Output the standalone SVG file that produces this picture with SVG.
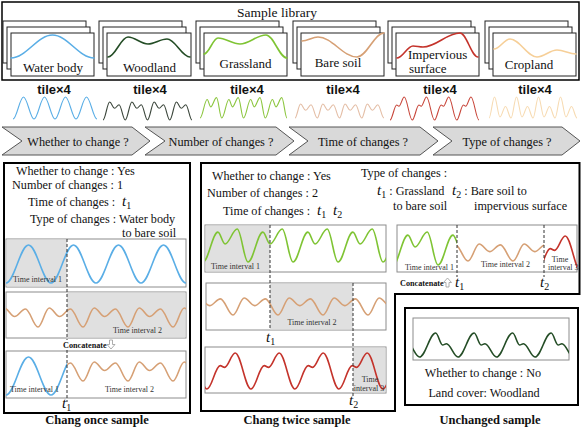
<svg xmlns="http://www.w3.org/2000/svg" width="581" height="430" viewBox="0 0 581 430">
<style>
.sf{font-family:"Liberation Serif","Times New Roman",serif;fill:#111}
.lbl{font-size:12.2px}
.ct{font-size:13px}
.ti{font-size:8px;fill:#333}
.tile{font-family:"Liberation Sans",Arial,sans-serif;font-weight:bold;font-size:13px;fill:#111}
.cap{font-weight:bold;font-size:12.5px}
.cc{font-weight:bold;font-size:8.2px}
.arr{fill:#fff;stroke:#999;stroke-width:0.8;stroke-linejoin:miter}
.m{font-style:italic;font-size:15px}
.sub{font-size:10px}
.chq{font-size:12.3px}
.box{fill:#fff;stroke:#8c8c8c;stroke-width:1}
.sh{fill:#e0e0e0}
.dash{stroke:#333;stroke-width:1;stroke-dasharray:3 2;fill:none}
.frame{fill:none;stroke:#000;stroke-width:2}
.card{fill:#fff;stroke:#222;stroke-width:1}
.chev{fill:#d9d9d9;stroke:#555;stroke-width:1}
.w{fill:none;stroke-width:1.6;stroke-linejoin:round;stroke-linecap:round}
.wt{fill:none;stroke-width:1.1;stroke-linejoin:round}
.blue{stroke:#5aaee6}.wood{stroke:#244d26}.grass{stroke:#7fc434}.bare{stroke:#d6a075}.imp{stroke:#c4332b}.crop{stroke:#f6cf98}
</style>
<defs>
<clipPath id="cL1"><rect x="6" y="239" width="180" height="48"/></clipPath>
<clipPath id="cL2"><rect x="6" y="292" width="180" height="46"/></clipPath>
<clipPath id="cL3a"><rect x="6" y="351" width="61" height="47"/></clipPath>
<clipPath id="cL3b"><rect x="67" y="351" width="119" height="47"/></clipPath>
<clipPath id="cM1"><rect x="205" y="225" width="181" height="47"/></clipPath>
<clipPath id="cM2"><rect x="206" y="283" width="180" height="47"/></clipPath>
<clipPath id="cM3"><rect x="205" y="347" width="181" height="46"/></clipPath>
<clipPath id="cRa"><rect x="397" y="225" width="60" height="47"/></clipPath>
<clipPath id="cRb"><rect x="457" y="225" width="87" height="47"/></clipPath>
<clipPath id="cRc"><rect x="544" y="225" width="33" height="47"/></clipPath>
<clipPath id="cU"><rect x="413" y="318" width="156" height="42"/></clipPath>
<path id="wBlue" class="w blue" d="M6,283 c8.19,0 14.31,-38 22.5,-38 c8.19,0 14.31,38 22.5,38 c8.19,0 14.31,-38 22.5,-38 c8.19,0 14.31,38 22.5,38 c8.19,0 14.31,-38 22.5,-38 c8.19,0 14.31,38 22.5,38 c8.19,0 14.31,-38 22.5,-38 c8.19,0 14.31,38 22.5,38"/>
<path id="wBrownL" class="w bare" d="M-7,327 c4.1,0 7.16,-19 11.25,-19 c3.77,0 6.58,8.55 10.35,8.55 c3.93,0 6.87,-7.6 10.8,-7.6 c4.59,0 8.01,18.05 12.6,18.05 c4.1,0 7.16,-19 11.25,-19 c3.77,0 6.58,8.55 10.35,8.55 c3.93,0 6.87,-7.6 10.8,-7.6 c4.59,0 8.01,18.05 12.6,18.05 c4.1,0 7.16,-19 11.25,-19 c3.77,0 6.58,8.55 10.35,8.55 c3.93,0 6.87,-7.6 10.8,-7.6 c4.59,0 8.01,18.05 12.6,18.05 c4.1,0 7.16,-19 11.25,-19 c3.77,0 6.58,8.55 10.35,8.55 c3.93,0 6.87,-7.6 10.8,-7.6 c4.59,0 8.01,18.05 12.6,18.05 c4.1,0 7.16,-19 11.25,-19 c3.77,0 6.58,8.55 10.35,8.55 c3.93,0 6.87,-7.6 10.8,-7.6 c4.59,0 8.01,18.05 12.6,18.05"/>
<path id="wGreen" class="w grass" d="M203,262 c5.41,0 9.44,-29.92 14.85,-29.92 c2.62,0 4.58,11.9 7.2,11.9 c4.42,0 7.73,-14.96 12.15,-14.96 c3.93,0 6.87,32.98 10.8,32.98 c5.41,0 9.44,-29.92 14.85,-29.92 c2.62,0 4.58,11.9 7.2,11.9 c4.42,0 7.73,-14.96 12.15,-14.96 c3.93,0 6.87,32.98 10.8,32.98 c5.41,0 9.44,-29.92 14.85,-29.92 c2.62,0 4.58,11.9 7.2,11.9 c4.42,0 7.73,-14.96 12.15,-14.96 c3.93,0 6.87,32.98 10.8,32.98 c5.41,0 9.44,-29.92 14.85,-29.92 c2.62,0 4.58,11.9 7.2,11.9 c4.42,0 7.73,-14.96 12.15,-14.96 c3.93,0 6.87,32.98 10.8,32.98 c5.41,0 9.44,-29.92 14.85,-29.92 c2.62,0 4.58,11.9 7.2,11.9 c4.42,0 7.73,-14.96 12.15,-14.96 c3.93,0 6.87,32.98 10.8,32.98"/>
<path id="wBrownM" class="w bare" d="M188,315 c4.1,0 7.16,-17 11.25,-17 c3.77,0 6.58,7.65 10.35,7.65 c3.93,0 6.87,-6.8 10.8,-6.8 c4.59,0 8.01,16.15 12.6,16.15 c4.1,0 7.16,-17 11.25,-17 c3.77,0 6.58,7.65 10.35,7.65 c3.93,0 6.87,-6.8 10.8,-6.8 c4.59,0 8.01,16.15 12.6,16.15 c4.1,0 7.16,-17 11.25,-17 c3.77,0 6.58,7.65 10.35,7.65 c3.93,0 6.87,-6.8 10.8,-6.8 c4.59,0 8.01,16.15 12.6,16.15 c4.1,0 7.16,-17 11.25,-17 c3.77,0 6.58,7.65 10.35,7.65 c3.93,0 6.87,-6.8 10.8,-6.8 c4.59,0 8.01,16.15 12.6,16.15 c4.1,0 7.16,-17 11.25,-17 c3.77,0 6.58,7.65 10.35,7.65 c3.93,0 6.87,-6.8 10.8,-6.8 c4.59,0 8.01,16.15 12.6,16.15"/>
<path id="wRed" class="w imp" d="M163,389 c4.8,0 8.4,-23.4 13.2,-23.4 c1.6,0 2.8,1.8 4.4,1.8 c3.84,0 6.72,-14.4 10.56,-14.4 c5.77,0 10.07,36 15.84,36 c4.8,0 8.4,-23.4 13.2,-23.4 c1.6,0 2.8,1.8 4.4,1.8 c3.84,0 6.72,-14.4 10.56,-14.4 c5.77,0 10.07,36 15.84,36 c4.8,0 8.4,-23.4 13.2,-23.4 c1.6,0 2.8,1.8 4.4,1.8 c3.84,0 6.72,-14.4 10.56,-14.4 c5.77,0 10.07,36 15.84,36 c4.8,0 8.4,-23.4 13.2,-23.4 c1.6,0 2.8,1.8 4.4,1.8 c3.84,0 6.72,-14.4 10.56,-14.4 c5.77,0 10.07,36 15.84,36 c4.8,0 8.4,-23.4 13.2,-23.4 c1.6,0 2.8,1.8 4.4,1.8 c3.84,0 6.72,-14.4 10.56,-14.4 c5.77,0 10.07,36 15.84,36 c4.8,0 8.4,-23.4 13.2,-23.4 c1.6,0 2.8,1.8 4.4,1.8 c3.84,0 6.72,-14.4 10.56,-14.4 c5.77,0 10.07,36 15.84,36"/>
<path id="wWood" class="w wood" d="M381,357 c5.89,0 10.28,-24 16.17,-24 c2.52,0 4.41,12 6.93,12 c1.4,0 2.45,-1.2 3.85,-1.2 c4.2,0 7.35,13.2 11.55,13.2 c5.89,0 10.28,-24 16.17,-24 c2.52,0 4.41,12 6.93,12 c1.4,0 2.45,-1.2 3.85,-1.2 c4.2,0 7.35,13.2 11.55,13.2 c5.89,0 10.28,-24 16.17,-24 c2.52,0 4.41,12 6.93,12 c1.4,0 2.45,-1.2 3.85,-1.2 c4.2,0 7.35,13.2 11.55,13.2 c5.89,0 10.28,-24 16.17,-24 c2.52,0 4.41,12 6.93,12 c1.4,0 2.45,-1.2 3.85,-1.2 c4.2,0 7.35,13.2 11.55,13.2 c5.89,0 10.28,-24 16.17,-24 c2.52,0 4.41,12 6.93,12 c1.4,0 2.45,-1.2 3.85,-1.2 c4.2,0 7.35,13.2 11.55,13.2 c5.89,0 10.28,-24 16.17,-24 c2.52,0 4.41,12 6.93,12 c1.4,0 2.45,-1.2 3.85,-1.2 c4.2,0 7.35,13.2 11.55,13.2"/>
</defs>
<rect width="581" height="430" fill="#fff"/>

<g id="sample-library">
<rect x="2" y="2" width="577" height="78" fill="none" stroke="#000" stroke-width="1.5"/>
<text class="sf" x="277" y="17" font-size="13.5" text-anchor="middle">Sample library</text>
<g id="card-water">
<rect class="card" x="3" y="21" width="83" height="42"/><rect class="card" x="7" y="27" width="83" height="42"/><rect class="card" x="11" y="33" width="83" height="43"/>
<path class="w blue" d="M11,58 C26,58 37.5,35 52.5,35 C67.5,35 79,58 94,58"/>
<text class="sf ct" x="53" y="72" text-anchor="middle">Water body</text>
</g>
<g id="card-woodland">
<rect class="card" x="99" y="21" width="83" height="42"/><rect class="card" x="103" y="27" width="83" height="42"/><rect class="card" x="107" y="33" width="84" height="43"/>
<path class="w wood" d="M108,57 C115.3,57 120.7,37 128,37 C135.3,37 140.7,44 148,44 C154.9,44 160.1,39 167,39 C175.4,39 181.6,57 190,57"/>
<text class="sf ct" x="149.5" y="72" text-anchor="middle">Woodland</text>
</g>
<g id="card-grassland">
<rect class="card" x="196" y="21" width="83" height="42"/><rect class="card" x="200" y="27" width="83" height="42"/><rect class="card" x="204" y="33" width="83" height="43"/>
<path class="w grass" d="M204,54 C209.1,54 212.9,38 218,38 C226,38 232,44 240,44 C249.5,44 256.5,35 266,35 C273.6,35 279.4,58 287,58"/>
<text class="sf ct" x="245.5" y="68" text-anchor="middle">Grassland</text>
</g>
<g id="card-baresoil">
<rect class="card" x="293" y="21" width="83" height="42"/><rect class="card" x="297" y="27" width="83" height="42"/><rect class="card" x="301" y="33" width="83" height="43"/>
<path class="w bare" d="M302,41 C307.8,41 312.2,37 318,37 C332.2,37 342.8,57 357,57 C366.8,57 374.2,33 384,33"/>
<text class="sf ct" x="338" y="67" text-anchor="middle">Bare soil</text>
</g>
<g id="card-impervious">
<rect class="card" x="388" y="21" width="83" height="42"/><rect class="card" x="392" y="27" width="83" height="42"/><rect class="card" x="396" y="33" width="83" height="43"/>
<path class="w imp" d="M397,58 C402.8,58 407.2,46 413,46 C416.6,46 419.4,47 423,47 C436.5,47 446.5,33 460,33 C466.6,33 471.4,57 478,57"/>
<text class="sf ct" x="408" y="59">Impervious<tspan x="409" y="73">surface</tspan></text>
</g>
<g id="card-cropland">
<rect class="card" x="485" y="21" width="83" height="42"/><rect class="card" x="489" y="27" width="83" height="42"/><rect class="card" x="493" y="33" width="83" height="43"/>
<path class="w crop" d="M494,49 C499.8,49 504.2,39 510,39 C519.8,39 527.2,57 537,57 C544.3,57 549.7,50 557,50 C563.9,50 569.1,54 576,54"/>
<text class="sf ct" x="529" y="69" text-anchor="middle">Cropland</text>
</g>
</g>

<g id="tiles">
<text class="tile" x="54" y="94" text-anchor="middle">tile×4</text>
<text class="tile" x="150" y="94" text-anchor="middle">tile×4</text>
<text class="tile" x="247" y="94" text-anchor="middle">tile×4</text>
<text class="tile" x="343" y="94" text-anchor="middle">tile×4</text>
<text class="tile" x="440" y="94" text-anchor="middle">tile×4</text>
<text class="tile" x="535" y="94" text-anchor="middle">tile×4</text>
<path class="wt blue" d="M13,119 c3.82,0 6.68,-22 10.5,-22 c3.82,0 6.68,22 10.5,22 c3.82,0 6.68,-22 10.5,-22 c3.82,0 6.68,22 10.5,22 c3.82,0 6.68,-22 10.5,-22 c3.82,0 6.68,22 10.5,22 c3.82,0 6.68,-22 10.5,-22 c3.82,0 6.68,22 10.5,22"/>
<path class="wt" stroke="#3b463b" d="M103,120 c2.43,0 4.25,-18 6.68,-18 c1.78,0 3.12,6.3 4.9,6.3 c1.62,0 2.83,-3.6 4.45,-3.6 c2.26,0 3.96,15.3 6.22,15.3 c2.43,0 4.25,-18 6.68,-18 c1.78,0 3.12,6.3 4.9,6.3 c1.62,0 2.83,-3.6 4.45,-3.6 c2.26,0 3.96,15.3 6.22,15.3 c2.43,0 4.25,-18 6.68,-18 c1.78,0 3.12,6.3 4.9,6.3 c1.62,0 2.83,-3.6 4.45,-3.6 c2.26,0 3.96,15.3 6.22,15.3 c2.43,0 4.25,-18 6.68,-18 c1.78,0 3.12,6.3 4.9,6.3 c1.62,0 2.83,-3.6 4.45,-3.6 c2.26,0 3.96,15.3 6.22,15.3"/>
<path class="wt" stroke="#8cc63f" d="M200,118 c2.61,0 4.57,-18.48 7.18,-18.48 c1.27,0 2.21,7.35 3.48,7.35 c2.14,0 3.73,-9.24 5.87,-9.24 c1.9,0 3.32,20.37 5.22,20.37 c2.61,0 4.57,-18.48 7.18,-18.48 c1.27,0 2.21,7.35 3.48,7.35 c2.14,0 3.73,-9.24 5.87,-9.24 c1.9,0 3.32,20.37 5.22,20.37 c2.61,0 4.57,-18.48 7.18,-18.48 c1.27,0 2.21,7.35 3.48,7.35 c2.14,0 3.73,-9.24 5.87,-9.24 c1.9,0 3.32,20.37 5.22,20.37 c2.61,0 4.57,-18.48 7.18,-18.48 c1.27,0 2.21,7.35 3.48,7.35 c2.14,0 3.73,-9.24 5.87,-9.24 c1.9,0 3.32,20.37 5.22,20.37"/>
<path class="wt" stroke="#e4bea6" d="M295,118 c2.02,0 3.54,-14 5.56,-14 c1.86,0 3.26,6.3 5.12,6.3 c1.94,0 3.4,-5.6 5.34,-5.6 c2.27,0 3.96,13.3 6.23,13.3 c2.02,0 3.54,-14 5.56,-14 c1.86,0 3.26,6.3 5.12,6.3 c1.94,0 3.4,-5.6 5.34,-5.6 c2.27,0 3.96,13.3 6.23,13.3 c2.02,0 3.54,-14 5.56,-14 c1.86,0 3.26,6.3 5.12,6.3 c1.94,0 3.4,-5.6 5.34,-5.6 c2.27,0 3.96,13.3 6.23,13.3 c2.02,0 3.54,-14 5.56,-14 c1.86,0 3.26,6.3 5.12,6.3 c1.94,0 3.4,-5.6 5.34,-5.6 c2.27,0 3.96,13.3 6.23,13.3"/>
<path class="wt" stroke="#c8463a" d="M390,120 c2.43,0 4.25,-14.95 6.68,-14.95 c0.81,0 1.42,1.15 2.23,1.15 c1.94,0 3.4,-9.2 5.34,-9.2 c2.91,0 5.09,23 8,23 c2.43,0 4.25,-14.95 6.68,-14.95 c0.81,0 1.42,1.15 2.23,1.15 c1.94,0 3.4,-9.2 5.34,-9.2 c2.91,0 5.09,23 8,23 c2.43,0 4.25,-14.95 6.68,-14.95 c0.81,0 1.42,1.15 2.23,1.15 c1.94,0 3.4,-9.2 5.34,-9.2 c2.91,0 5.09,23 8,23 c2.43,0 4.25,-14.95 6.68,-14.95 c0.81,0 1.42,1.15 2.23,1.15 c1.94,0 3.4,-9.2 5.34,-9.2 c2.91,0 5.09,23 8,23"/>
<path class="wt" stroke="#f7dbb2" d="M489,118 c2,0 3.5,-21 5.5,-21 c2,0 3.5,19.95 5.5,19.95 c2,0 3.5,-10.5 5.5,-10.5 c2,0 3.5,11.55 5.5,11.55 c2,0 3.5,-21 5.5,-21 c2,0 3.5,19.95 5.5,19.95 c2,0 3.5,-10.5 5.5,-10.5 c2,0 3.5,11.55 5.5,11.55 c2,0 3.5,-21 5.5,-21 c2,0 3.5,19.95 5.5,19.95 c2,0 3.5,-10.5 5.5,-10.5 c2,0 3.5,11.55 5.5,11.55 c2,0 3.5,-21 5.5,-21 c2,0 3.5,19.95 5.5,19.95 c2,0 3.5,-10.5 5.5,-10.5 c2,0 3.5,11.55 5.5,11.55"/>
</g>

<g id="steps">
<g id="step-whether"><polygon class="chev" points="2,127 132,127 150,141 132,155 2,155 22,141"/><text class="sf chq" x="78" y="146" text-anchor="middle">Whether to change ?</text></g>
<g id="step-number"><polygon class="chev" points="145,127 276,127 294,141 276,155 145,155 165,141"/><text class="sf chq" x="221" y="146" text-anchor="middle">Number of changes ?</text></g>
<g id="step-time"><polygon class="chev" points="289,127 420,127 438,141 420,155 289,155 308,141"/><text class="sf chq" x="363" y="146" text-anchor="middle">Time of changes ?</text></g>
<g id="step-type"><polygon class="chev" points="433,127 562,127 580,141 562,155 433,155 452,141"/><text class="sf chq" x="507" y="146" text-anchor="middle">Type of changes ?</text></g>
</g>

<g id="change-once">
<rect class="frame" x="4" y="163" width="186" height="250"/>
<text class="sf lbl" x="16" y="175">Whether to change : Yes</text>
<text class="sf lbl" x="12" y="189">Number of changes : 1</text>
<text class="sf lbl" x="28" y="206">Time of changes : <tspan x="122" class="m">t</tspan><tspan class="sub" dy="3">1</tspan></text>
<text class="sf lbl" x="30" y="223">Type of changes : Water body</text>
<text class="sf lbl" x="122" y="237">to bare soil</text>
<rect class="box" x="6" y="239" width="180" height="48"/>
<rect class="sh" x="6.5" y="239.5" width="60.5" height="47"/>
<g clip-path="url(#cL1)"><use href="#wBlue"/></g>
<text class="sf ti" x="13" y="282">Time interval 1</text>
<rect class="box" x="6" y="292" width="180" height="46"/>
<rect class="sh" x="67" y="292.5" width="118.5" height="45"/>
<g clip-path="url(#cL2)"><use href="#wBrownL"/></g>
<text class="sf ti" x="113" y="333">Time interval 2</text>
<text class="sf cc" x="63" y="348">Concatenate</text>
<polygon class="arr" points="109.5,340 112.5,340 112.5,344.5 115,344.5 111,349 107,344.5 109.5,344.5"/>
<rect class="box" x="6" y="351" width="180" height="47"/>
<g clip-path="url(#cL3a)"><use href="#wBlue" transform="translate(0,112)"/></g>
<g clip-path="url(#cL3b)"><use href="#wBrownL" transform="translate(0,54)"/></g>
<text class="sf ti" x="10" y="392">Time interval 1</text>
<text class="sf ti" x="105" y="392">Time interval 2</text>
<path class="dash" d="M67,239 V340 M67,350 V402"/>
<text class="sf" x="62" y="408"><tspan class="m">t</tspan><tspan class="sub" dy="3">1</tspan></text>
</g>

<g id="change-twice">
<path class="frame" d="M201,163 H579.5 V294 H395 V411 H201 Z"/>
<text class="sf lbl" x="212" y="180">Whether to change : Yes</text>
<text class="sf lbl" x="207" y="197">Number of changes : 2</text>
<text class="sf lbl" x="223" y="215">Time of changes : <tspan x="317" class="m">t</tspan><tspan class="sub" dy="3">1</tspan><tspan x="333" dy="-3" class="m">t</tspan><tspan class="sub" dy="3">2</tspan></text>
<text class="sf lbl" x="361" y="177">Type of changes :</text>
<text class="sf lbl" x="377" y="195"><tspan class="m">t</tspan><tspan class="sub" dy="3">1</tspan><tspan dy="-3"> : Grassland</tspan></text>
<text class="sf lbl" x="393" y="210">to bare soil</text>
<text class="sf lbl" x="452" y="195"><tspan class="m">t</tspan><tspan class="sub" dy="3">2</tspan><tspan dy="-3"> : Bare soil to</tspan></text>
<text class="sf lbl" x="474" y="210">impervious surface</text>
<rect class="box" x="205" y="225" width="181" height="47"/>
<rect class="sh" x="205.5" y="225.5" width="64.5" height="46"/>
<g clip-path="url(#cM1)"><use href="#wGreen"/></g>
<text class="sf ti" x="211" y="269">Time interval 1</text>
<rect class="box" x="206" y="283" width="180" height="47"/>
<rect class="sh" x="270" y="283.5" width="83" height="46"/>
<g clip-path="url(#cM2)"><use href="#wBrownM"/></g>
<text class="sf ti" x="312" y="325" text-anchor="middle">Time interval 2</text>
<rect class="box" x="205" y="347" width="181" height="46"/>
<rect class="sh" x="353" y="347.5" width="32.5" height="45"/>
<g clip-path="url(#cM3)"><use href="#wRed"/></g>
<text class="sf ti" x="370" y="382" text-anchor="middle">Time</text>
<text class="sf ti" x="369" y="391" text-anchor="middle">interval 3</text>
<path class="dash" d="M270,225 V330 M353,283 V396"/>
<text class="sf" x="266" y="342"><tspan class="m">t</tspan><tspan class="sub" dy="3">1</tspan></text>
<text class="sf" x="349" y="405"><tspan class="m">t</tspan><tspan class="sub" dy="3">2</tspan></text>
<rect class="box" x="397" y="225" width="180" height="47"/>
<g clip-path="url(#cRa)"><use href="#wGreen" transform="translate(190,3)"/></g>
<g clip-path="url(#cRb)"><use href="#wBrownM" transform="translate(190,-54)"/></g>
<g clip-path="url(#cRc)"><use href="#wRed" transform="translate(198,-117)"/></g>
<text class="sf ti" x="405" y="270">Time interval 1</text>
<text class="sf ti" x="481" y="267">Time interval 2</text>
<text class="sf ti" x="560" y="262" text-anchor="middle">Time</text>
<text class="sf ti" x="548" y="270">interval 3</text>
<path class="dash" d="M457,225 V277 M544,225 V277"/>
<text class="sf" x="455" y="287"><tspan class="m">t</tspan><tspan class="sub" dy="3">1</tspan></text>
<text class="sf" x="540" y="287"><tspan class="m">t</tspan><tspan class="sub" dy="3">2</tspan></text>
<text class="sf cc" x="400" y="286">Concatenate</text>
<polygon class="arr" points="446,287 449,287 449,282.5 451.5,282.5 447.5,278 443.5,282.5 446,282.5"/>
</g>

<g id="unchanged">
<rect class="frame" x="405" y="308" width="173" height="97"/>
<rect class="box" x="413" y="318" width="156" height="42"/>
<g clip-path="url(#cU)"><use href="#wWood"/></g>
<text class="sf lbl" x="483" y="377" text-anchor="middle">Whether to change : No</text>
<text class="sf lbl" x="484" y="397" text-anchor="middle">Land cover: Woodland</text>
</g>

<g id="captions">
<text class="sf cap" x="97" y="424" text-anchor="middle">Chang once sample</text>
<text class="sf cap" x="297" y="424" text-anchor="middle">Chang twice sample</text>
<text class="sf cap" x="490" y="424" text-anchor="middle">Unchanged sample</text>
</g>
</svg>
